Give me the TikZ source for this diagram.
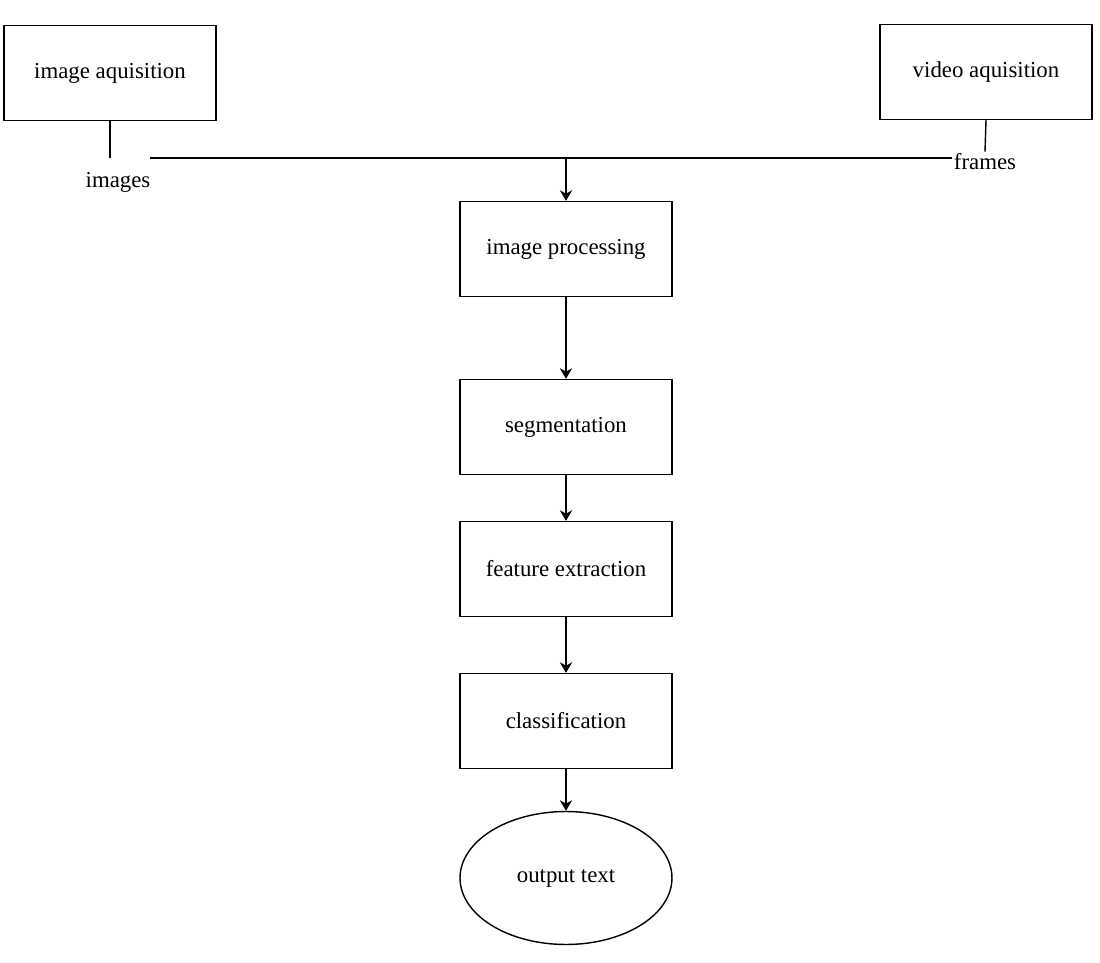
\documentclass[tikz,border=0pt]{standalone}
\usepackage{fontspec}
\setmainfont{Liberation Serif}
\usetikzlibrary{positioning,shapes.geometric,arrows.meta}

\tikzset{
  box/.style={draw, thick, minimum width=4.24cm, minimum height=1.9cm, font=\fontsize{13}{15}\selectfont},
  lbl/.style={font=\fontsize{13}{15}\selectfont, inner sep=1pt},
  arr/.style={thick, -{Stealth[length=6pt,width=7pt]}}
}

\begin{document}
\begin{tikzpicture}[x=0.02cm,y=-0.02cm]
\useasboundingbox (0,0) rectangle (1100,963);

\node[box] (imgacq) at (110,73) {image aquisition};
\node[box] (vidacq) at (986,72) {video aquisition};

\node[lbl] (images) at (118,182) {images};
\node[lbl] (frames) at (985,162) {frames};

\coordinate (ljoin) at (110,158);
\coordinate (rjoin) at (986,158);
\coordinate (lend) at (150,158);
\coordinate (mid) at (566,158);

\node[box] (improc) at (566,249) {image processing};
\node[box] (seg) at (566,427) {segmentation};
\node[box] (feat) at (566,569) {feature extraction};
\node[box] (cls) at (566,721) {classification};
\node[draw, thick, ellipse, minimum width=4.24cm, minimum height=2.66cm, font=\fontsize{13}{15}\selectfont] (out) at (566,878) {output text};

\draw[thick] (imgacq.south) -- (ljoin);
\draw[thick] (vidacq.south) -- (frames.north);
\draw[thick] (lend) -- (frames.west |- lend);

\draw[arr] (mid) -- (improc.north);
\draw[arr] (improc) -- (seg);
\draw[arr] (seg) -- (feat);
\draw[arr] (feat) -- (cls);
\draw[arr] (cls) -- (out);

\end{tikzpicture}
\end{document}
